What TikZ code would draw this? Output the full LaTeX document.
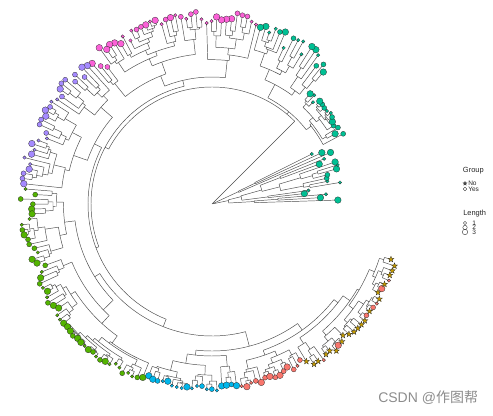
\documentclass[tikz,border=0pt]{standalone}
\usepackage{fontspec}
\setmainfont{Liberation Sans}
\newfontfamily\cjkfont{Noto Sans CJK SC}

% group colours
\definecolor{grpsalmon}{HTML}{F8766D}
\definecolor{grpgold}{HTML}{C49A00}
\definecolor{grpgreen}{HTML}{53B400}
\definecolor{grpteal}{HTML}{00C094}
\definecolor{grpblue}{HTML}{00B6EB}
\definecolor{grppurple}{HTML}{A58AFF}
\definecolor{grppink}{HTML}{FB61D7}

\tikzset{
  branch/.style={draw=black!70, line width=0.35pt},
  tipdot/.style={draw=black!85, line width=0.2pt},
  legtitle/.style={anchor=west, inner sep=0pt, font=\fontsize{5.6}{6}\selectfont, text=black!85},
  legtext/.style={anchor=west, inner sep=0pt, font=\fontsize{4.9}{5}\selectfont, text=black!85},
}

% tip i sits at angle \tipzero+\tipstep*i
\def\tipzero{1.8}
\def\tipstep{1.55}

\newcommand\treestem[3]{\draw[branch] (#1:#2) -- (#1:#3);}
\newcommand\treebow[3]{\draw[branch] (#1:#3) arc[start angle=#1, end angle=#2, radius=#3];}
\newcommand\starpath{(90:3.2) -- (126:1.3) -- (162:3.2) -- (198:1.3) -- (234:3.2) -- (270:1.3) -- (306:3.2) -- (342:1.3) -- (18:3.2) -- (54:1.3) -- cycle}

% tip: angle, radius, colour, kind (0 circle, 1 star group)
\newcommand\tipmark[4]{%
  \pgfmathrandominteger{\tipsz}{1}{3}%
  \pgfmathsetmacro\tiprad{0.9+0.8*\tipsz}%
  \pgfmathsetmacro\coin{rnd}%
  \ifnum#4=1
    \ifdim\coin pt<0.3pt
      \filldraw[tipdot, fill=grpsalmon] (#1:#2) circle[radius=\tiprad];
    \else
      \filldraw[tipdot, fill=grpgold, shift={(#1:#2)}] \starpath;
    \fi
  \else
    \filldraw[tipdot, fill=#3] (#1:#2) circle[radius=\tiprad];
  \fi}

% clade: first tip, tips, node radius, outer radius, colour, kind
\newcommand\clade[6]{%
  \begingroup
  \pgfmathtruncatemacro\nleft{1+floor(rnd*(#2-1))}%
  \pgfmathtruncatemacro\nright{#2-\nleft}%
  \pgfmathtruncatemacro\iright{#1+\nleft}%
  \pgfmathsetmacro\aleft{\tipzero+\tipstep*(#1+(\nleft-1)/2)}%
  \pgfmathsetmacro\aright{\tipzero+\tipstep*(\iright+(\nright-1)/2)}%
  \treebow{\aleft}{\aright}{#3}%
  \edef\next{\noexpand\subclade{#1}{\nleft}{#3}{#4}{#5}{#6}%
    \noexpand\subclade{\iright}{\nright}{#3}{#4}{#5}{#6}}%
  \next
  \endgroup}

\newcommand\subclade[6]{%
  \begingroup
  \pgfmathsetmacro\ang{\tipzero+\tipstep*(#1+(#2-1)/2)}%
  \ifnum#2=1
    \pgfmathsetmacro\rout{#3+(#4-#3)*(0.45+0.55*rnd)}%
    \treestem{\ang}{#3}{\rout}%
    \tipmark{\ang}{\rout}{#5}{#6}%
  \else
    \pgfmathsetmacro\rin{#3+(#4-#3)*(0.08+0.3*rnd)}%
    \treestem{\ang}{#3}{\rin}%
    \edef\next{\noexpand\clade{#1}{#2}{\rin}{#4}{#5}{#6}}\next
  \fi
  \endgroup}

\begin{document}
\begin{tikzpicture}[x=0.75pt,y=0.75pt]
\useasboundingbox (-212,-211) rectangle (281,204);
\pgfmathsetseed{7}

%Tree: teal group next to the root
\clade{0}{17}{1}{132}{grpteal}{0}

%Tree: backbone
\treestem{45}{0}{117}
\treebow{45}{152}{117}
\treestem{50.2}{117}{120}
\treebow{38.2}{62.25}{120}
\treestem{38.2}{120}{126}
\clade{17}{14}{126}{150}{grpteal}{0}
\treestem{62.25}{120}{135}
\clade{31}{17}{135}{187}{grpteal}{0}

\treestem{152}{117}{121}
\treebow{103.3}{200.7}{121}
\treestem{103.3}{121}{127}
\clade{48}{36}{127}{193}{grppink}{0}

\treestem{200.7}{121}{124}
\treebow{152.9}{248.3}{124}
\treestem{152.9}{124}{132}
\clade{84}{28}{132}{195}{grppurple}{0}

\treestem{248.3}{124}{132}
\treebow{211.8}{284.7}{132}
\treestem{211.8}{132}{138}
\clade{112}{48}{138}{192}{grpgreen}{0}

\treestem{284.7}{132}{147}
\treebow{263.75}{305.6}{147}
\treestem{263.75}{147}{152}
\clade{160}{19}{152}{188}{grpblue}{0}

\treestem{305.6}{147}{155}
\treebow{289.3}{321.9}{155}
\treestem{289.3}{155}{160}
\clade{179}{14}{160}{186}{grpsalmon}{0}
\treestem{321.9}{155}{160}
\clade{193}{28}{160}{193}{grpgold}{1}

% Legend
\node[legtitle] (grouptitle) at (250.7,33) {Group};
\filldraw[draw=black!80, fill=black!70, line width=0.2pt, shift={(253,20.5)}, scale=0.65] \starpath;
\node[legtext] (grpno) at (256,20.5) {No};
\draw[black!80, line width=0.3pt] (253,15) circle[radius=1.8];
\node[legtext] (grpyes) at (256,15) {Yes};
\node[legtitle] (lentitle) at (251,-9.5) {Length};
\draw[black!80, line width=0.3pt] (253,-19) circle[radius=1.7];
\draw[black!80, line width=0.3pt] (253,-23.5) circle[radius=2.2];
\draw[black!80, line width=0.3pt] (253,-28) circle[radius=2.7];
\node[legtext] (lenone) at (260,-19) {1};
\node[legtext] (lentwo) at (260,-23.5) {2};
\node[legtext] (lenthree) at (260,-28) {3};

% Watermark
\node[anchor=west, inner sep=0pt, text=black!45, font=\fontsize{10.5}{11}\selectfont] (mark) at (166,-194) {CSDN @{\cjkfont 作图帮}};
\end{tikzpicture}
\end{document}
